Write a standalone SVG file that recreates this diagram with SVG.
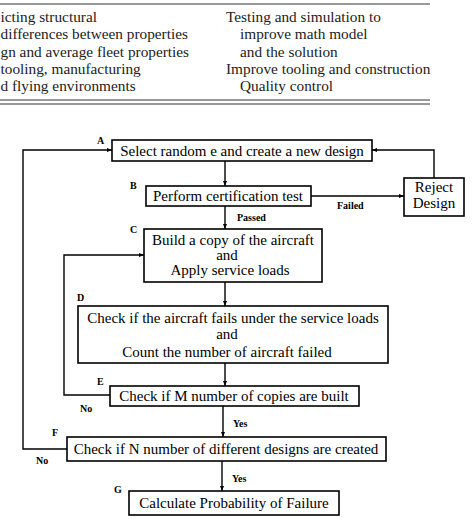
<svg xmlns="http://www.w3.org/2000/svg" width="474" height="530" viewBox="0 0 474 530">
<defs>
<marker id="ah" viewBox="0 0 10 10" refX="10" refY="5" markerWidth="5" markerHeight="5" orient="auto" markerUnits="userSpaceOnUse">
<path d="M0,1 L10,5 L0,9 z" fill="#000"/>
</marker>
<style>
.t{font-family:"Liberation Serif","Times New Roman",serif;font-size:15.3px;fill:#222}
.n{font-family:"Liberation Serif","Times New Roman",serif;font-size:15px;fill:#000;text-anchor:middle}
.lb{font-family:"Liberation Serif","Times New Roman",serif;font-size:10px;font-weight:bold;fill:#000}
.box{fill:#fff;stroke:#000;stroke-width:1.6}
.c{fill:none;stroke:#000;stroke-width:1.4}
.rule{stroke:#777;stroke-width:1.3}
</style>
</defs>
<rect width="474" height="530" fill="#fff"/>
<g id="table">
<line class="rule" x1="0" y1="4" x2="430" y2="4"/>
<line class="rule" x1="0" y1="100" x2="430" y2="100"/>
<line class="rule" x1="0" y1="104" x2="430" y2="104"/>
<text class="t" x="0.5" y="22">icting structural</text>
<text class="t" x="0.5" y="39">differences between properties</text>
<text class="t" x="0.5" y="57">gn and average fleet properties</text>
<text class="t" x="0.5" y="74">tooling, manufacturing</text>
<text class="t" x="0.5" y="91">d flying environments</text>
<text class="t" x="226" y="22">Testing and simulation to</text>
<text class="t" x="240" y="39">improve math model</text>
<text class="t" x="240" y="57">and the solution</text>
<text class="t" x="226" y="74">Improve tooling and construction</text>
<text class="t" x="240" y="91">Quality control</text>
</g>
<g id="connectors">
<line class="c" x1="225" y1="161" x2="225" y2="186" marker-end="url(#ah)"/>
<line class="c" x1="311" y1="196" x2="404" y2="196" marker-end="url(#ah)"/>
<polyline class="c" points="434,178 434,150 372,150" marker-end="url(#ah)"/>
<line class="c" x1="225" y1="206" x2="225" y2="229" marker-end="url(#ah)"/>
<line class="c" x1="225" y1="282" x2="225" y2="306" marker-end="url(#ah)"/>
<line class="c" x1="225" y1="363" x2="225" y2="386" marker-end="url(#ah)"/>
<polyline class="c" points="110,395 64,395 64,255 144,255" marker-end="url(#ah)"/>
<line class="c" x1="223" y1="406" x2="223" y2="437" marker-end="url(#ah)"/>
<polyline class="c" points="67,449 23,449 23,150 112,150" marker-end="url(#ah)"/>
<line class="c" x1="222" y1="461" x2="222" y2="491" marker-end="url(#ah)"/>
<text class="lb" x="337" y="209">Failed</text>
<text class="lb" x="237" y="221">Passed</text>
<text class="lb" x="233" y="427">Yes</text>
<text class="lb" x="80" y="412">No</text>
<text class="lb" x="232" y="482">Yes</text>
<text class="lb" x="36" y="464">No</text>
</g>
<g id="A">
<rect class="box" x="112" y="140" width="260" height="21"/>
<text class="n" x="242" y="155.5">Select random e and create a new design</text>
<text class="lb" x="97" y="144">A</text>
</g>
<g id="B">
<rect class="box" x="146" y="186" width="165" height="20"/>
<text class="n" x="228" y="201">Perform certification test</text>
<text class="lb" x="130" y="189">B</text>
</g>
<g id="Reject">
<rect class="box" x="404" y="178" width="60" height="38"/>
<text class="n" x="434" y="192">Reject</text>
<text class="n" x="434" y="208">Design</text>
</g>
<g id="C">
<rect class="box" x="144" y="229" width="178" height="53"/>
<text class="n" x="233" y="245">Build a copy of the aircraft</text>
<text class="n" x="227" y="260">and</text>
<text class="n" x="230" y="275">Apply service loads</text>
<text class="lb" x="130" y="233">C</text>
</g>
<g id="D">
<rect class="box" x="78" y="306" width="310" height="57"/>
<text class="n" x="233" y="323">Check if the aircraft fails under the service loads</text>
<text class="n" x="227" y="339">and</text>
<text class="n" x="227" y="357">Count the number of aircraft failed</text>
<text class="lb" x="77" y="301">D</text>
</g>
<g id="E">
<rect class="box" x="110" y="386" width="249" height="20"/>
<text class="n" x="234" y="401">Check if M number of copies are built</text>
<text class="lb" x="97" y="385">E</text>
</g>
<g id="F">
<rect class="box" x="67" y="437" width="319" height="24"/>
<text class="n" x="226" y="454">Check if N number of different designs are created</text>
<text class="lb" x="52" y="436">F</text>
</g>
<g id="G">
<rect class="box" x="129" y="491" width="210" height="24"/>
<text class="n" x="234" y="508">Calculate Probability of Failure</text>
<text class="lb" x="114" y="493">G</text>
</g>
</svg>
